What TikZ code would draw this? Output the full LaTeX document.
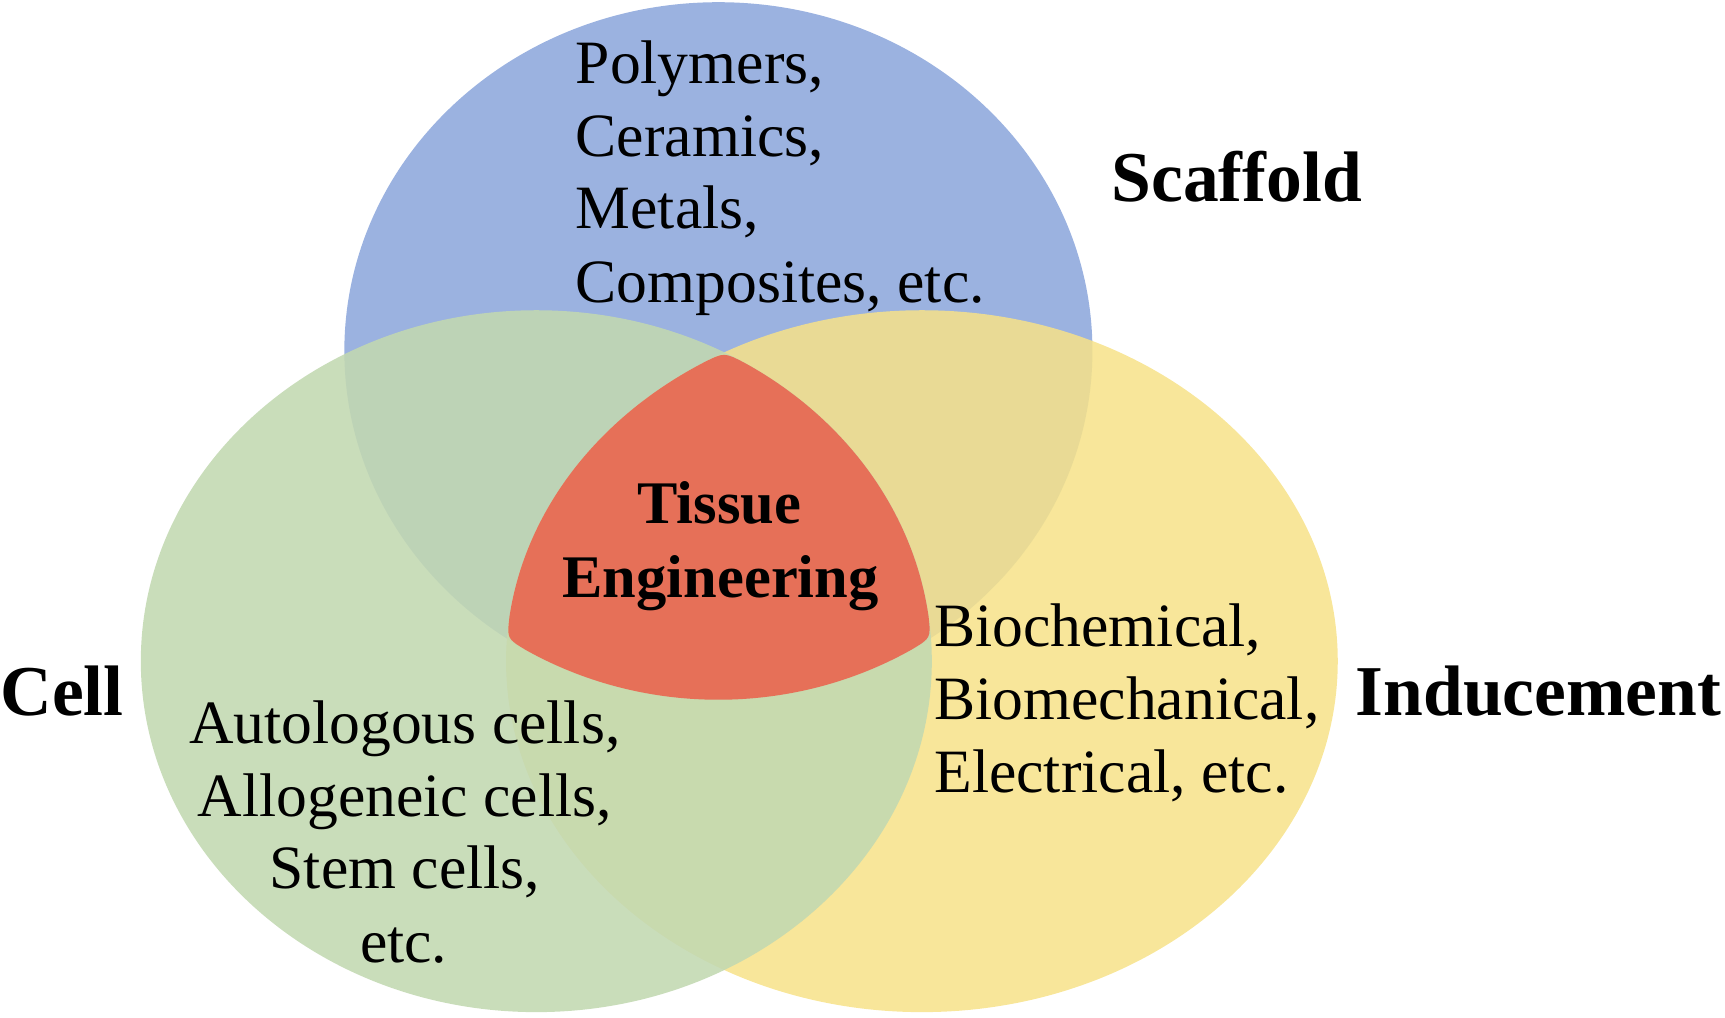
\documentclass[tikz,border=0pt]{standalone}
\usepackage{fontspec}
\setmainfont{Liberation Serif}
\definecolor{scafblue}{RGB}{155,178,224}
\definecolor{cellgreen}{RGB}{194,216,177}
\definecolor{indyellow}{RGB}{247,226,136}
\definecolor{tered}{RGB}{230,112,88}
\begin{document}
\begin{tikzpicture}[x=0.5pt,y=-0.5pt,
  body/.style={font=\fontsize{28}{33}\selectfont, inner sep=0pt},
  lab/.style={font=\bfseries\fontsize{32.5}{39}\selectfont, inner sep=0pt},
  core/.style={font=\bfseries\fontsize{27.5}{33}\selectfont, inner sep=0pt}]
\useasboundingbox (0,0) rectangle (1568,925);
% circles
\fill[scafblue] (653,319) ellipse [x radius=170pt, y radius=158.5pt];
\fill[indyellow, fill opacity=0.85] (838,601) ellipse [x radius=189pt, y radius=159.5pt];
\fill[cellgreen, fill opacity=0.88] (487.5,601) ellipse [x radius=179.75pt, y radius=159.5pt];
% centre region (intersection of the three, with rounded tips)
\coordinate (v1) at (658.3,320.3);
\coordinate (v2) at (460.8,580.5);
\coordinate (v3) at (846.2,579.9);
\fill[tered] (676.4,329.6)
  arc [start angle=58.3, end angle=7.4, x radius=179.75pt, y radius=159.5pt]
  .. controls (v3) .. (829.1,590.2)
  arc [start angle=301.2, end angle=239.0, x radius=170pt, y radius=158.5pt]
  .. controls (v2) .. (463.1,560.5)
  arc [start angle=172.7, end angle=121.5, x radius=189pt, y radius=159.5pt]
  .. controls (v1) .. cycle;
% scaffold texts
\node[body, anchor=base west] (poly) at (523,76) {Polymers,};
\node[body, anchor=base west] (cera) at (523,142) {Ceramics,};
\node[body, anchor=base west] (meta) at (523,208) {Metals,};
\node[body, anchor=base west] (comp) at (523,275) {Composites, etc.};
% inducement texts
\node[body, anchor=base west] (bioc) at (849,588) {Biochemical,};
\node[body, anchor=base west] (biom) at (849,654) {Biomechanical,};
\node[body, anchor=base west] (elec) at (849,720) {Electrical, etc.};
% cell texts
\node[body, anchor=base] (auto) at (368,676) {Autologous cells,};
\node[body, anchor=base] (allo) at (368,742) {Allogeneic cells,};
\node[body, anchor=base] (stem) at (368,808) {Stem cells,};
\node[body, anchor=base] (cetc) at (367,875) {etc.};
% labels
\node[lab, anchor=base west] (scaf) at (1010,183) {Scaffold};
\node[lab, anchor=base west] (cell) at (0,650) {Cell};
\node[lab, anchor=base west] (indu) at (1232,650) {Inducement};
\node[core, anchor=base] (tis) at (654,476) {Tissue};
\node[core, anchor=base] (eng) at (655,543) {Engineering};
\end{tikzpicture}
\end{document}
